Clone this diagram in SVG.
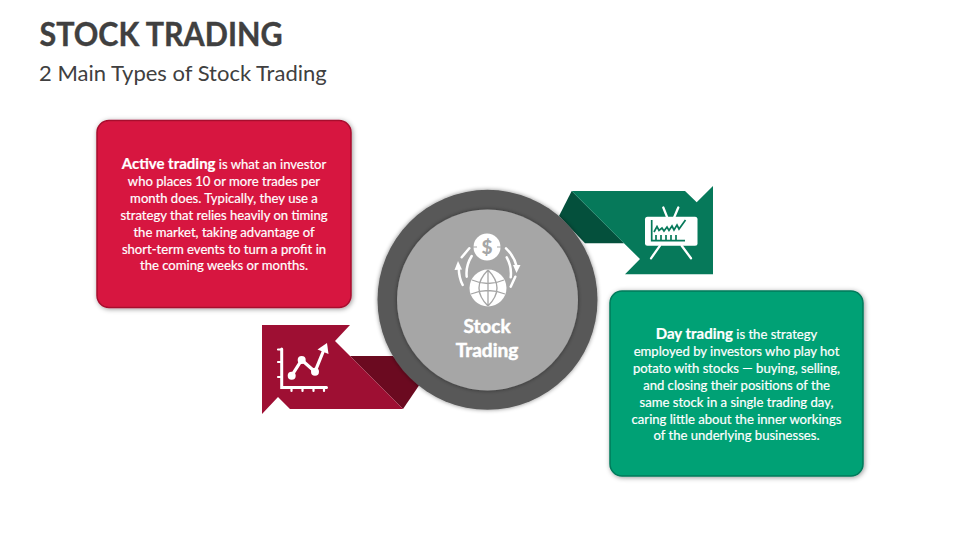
<svg xmlns="http://www.w3.org/2000/svg" width="960" height="540" viewBox="0 0 960 540">
<style>
text{font-family:Lato,"Open Sans",sans-serif}
.t{font-size:13.100px;fill:#fff;stroke:#fff;stroke-width:.2;text-anchor:middle}
.b{font-weight:700;font-size:15px}
.h{font-size:19px;font-weight:700;fill:#fff;stroke:#fff;stroke-width:.5;text-anchor:middle}
.w{fill:none;stroke:#fff;stroke-linecap:round}
.g{fill:none;stroke:#06795a;stroke-width:1.700}
.gl{fill:none;stroke:#a6a6a6;stroke-width:1.300}
</style>
<defs>
<filter id="s" x="-10%" y="-10%" width="120%" height="120%"><feDropShadow dx="0" dy="0" stdDeviation="2" flood-color="#000" flood-opacity=".45"/></filter>
<filter id="s2" x="-10%" y="-10%" width="120%" height="120%"><feDropShadow dx="1" dy="1" stdDeviation="2.500" flood-color="#000" flood-opacity=".4"/></filter>
</defs>
<rect width="960" height="540" fill="#fff"/>
<text id="title" x="39.500" y="46" font-size="33" font-weight="700" fill="#404040" stroke="#404040" stroke-width=".4" textLength="243" lengthAdjust="spacingAndGlyphs">STOCK TRADING</text>
<text id="subtitle" x="39" y="81" font-size="22" fill="#404040">2 Main Types of Stock Trading</text>

<g id="banner-red">
<polygon points="350,356 393,356 420,384 403,409" fill="#6b0a20"/>
<polygon points="262,325 350,325 335,341 403,409 290,409 278,397 262,414" fill="#9e0f33"/>
<g id="icon-chart">
<path class="w" stroke-width="3" d="M281.700 349V387.500H326.500"/>
<path class="w" stroke-width="2.200" d="M278 349.500H281.700M278 362H281.700M278 377H281.700M291.500 387.500V391M302.500 387.500V391M313.500 387.500V391M324 387.500V391"/>
<path class="w" stroke-width="3.200" d="M291.700 375.700L301.700 360L315 371.700L323 352"/>
<circle cx="291.700" cy="375.700" r="4" fill="#fff"/><circle cx="301.700" cy="360" r="4" fill="#fff"/><circle cx="315" cy="371.700" r="4" fill="#fff"/>
<polygon points="327,343 317.500,349.500 328.500,354" fill="#fff"/>
</g>
</g>

<g id="banner-green">
<polygon points="571.700,191 624,243.300 585,243.300 559,216" fill="#04503c"/>
<polygon points="571.700,191 685,191 696.700,202.300 713,186 713,274.300 625,274.300 640,259 624,243.300" fill="#06795a"/>
<g id="icon-tv">
<rect x="645" y="216.700" width="52.500" height="29" rx="2.500" fill="#fff"/>
<path class="w" stroke-width="2.300" d="M667.300 217.700L663.300 207.500M674 217.700L678.300 207.500M660 245.700L651 258.300M681.700 245.700L691 258.300"/>
<path class="g" d="M651.700 220V240.700H685"/>
<path class="g" d="M654 232L657 226.500L659 230.500L662 228L664 231L667 227L669 230.500L672 226L674 230L677 225L679 229L685.500 220"/>
<path class="g" stroke-width="2" d="M656 235V240M661 235V240M666 235V240M671 235V240M676 235V240"/>
</g>
</g>

<g id="hub">
<circle cx="487.500" cy="299.800" r="110" fill="#595959" filter="url(#s)"/>
<circle cx="487.500" cy="300" r="90.500" fill="#a6a6a6" filter="url(#s)"/>
<g id="icon-hub">
<circle cx="487" cy="247" r="13.500" fill="#fff"/>
<path stroke="#a6a6a6" stroke-width="1.200" d="M473 247H477M497 247H501"/>
<text x="487" y="253.500" font-size="19" font-weight="900" fill="#a6a6a6" text-anchor="middle">$</text>
<circle cx="488" cy="288" r="18.500" fill="#fff"/>
<path class="gl" d="M488 270V306M472 280Q488 287 504 280M471 294Q488 287 505 294M488 270Q470 288 488 306M488 270Q506 288 488 306"/>
<path class="w" stroke-width="2.500" d="M469.300 248.300L461.700 257.300M471.700 256Q465.500 266 466.700 276.700M458.800 266Q458.500 277 462.700 285M506 248.300Q514 256 516.500 266M515.300 276.700L510.700 286.700M506.700 257.300Q512 267 510.700 277.300"/>
<polygon points="458,261 454.500,270 462,269.500" fill="#fff"/>
<polygon points="516.500,273 513,265 520.500,265" fill="#fff"/>
</g>
<text class="h" x="487" y="333">Stock</text>
<text class="h" x="487" y="357">Trading</text>
</g>

<g id="active-trading">
<rect x="97" y="120.500" width="254" height="187" rx="12" fill="#d71440" stroke="#a8102f" stroke-width="1.500" filter="url(#s2)"/>
<text class="t" x="224" y="169"><tspan class="b">Active trading</tspan> is what an investor</text>
<text class="t" x="224" y="186">who places 10 or more trades per</text>
<text class="t" x="224" y="203">month does. Typically, they use a</text>
<text class="t" x="224" y="220">strategy that relies heavily on timing</text>
<text class="t" x="224" y="237">the market, taking advantage of</text>
<text class="t" x="224" y="254">short-term events to turn a profit in</text>
<text class="t" x="224" y="270">the coming weeks or months.</text>
</g>

<g id="day-trading">
<rect x="610" y="291" width="253" height="185" rx="12" fill="#05a174" stroke="#067a5b" stroke-width="1.500" filter="url(#s2)"/>
<text class="t" x="736.500" y="339"><tspan class="b">Day trading</tspan> is the strategy</text>
<text class="t" x="736.500" y="356">employed by investors who play hot</text>
<text class="t" x="736.500" y="373">potato with stocks — buying, selling,</text>
<text class="t" x="736.500" y="390">and closing their positions of the</text>
<text class="t" x="736.500" y="407">same stock in a single trading day,</text>
<text class="t" x="736.500" y="424">caring little about the inner workings</text>
<text class="t" x="736.500" y="440">of the underlying businesses.</text>
</g>
</svg>
